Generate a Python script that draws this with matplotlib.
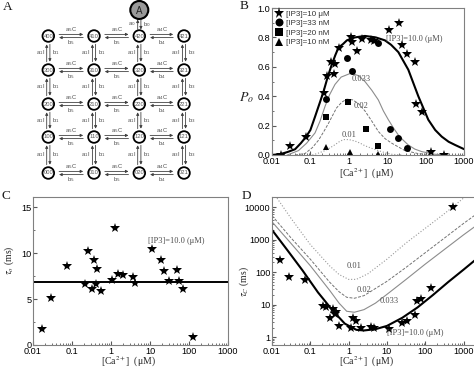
import matplotlib
matplotlib.use("Agg")
import numpy as np
import matplotlib.pyplot as plt
from matplotlib.patches import Circle
from matplotlib.ticker import FixedLocator, FuncFormatter, LogLocator, MultipleLocator, NullFormatter

W, H = 474, 368

# ---- Painel A: esquema de estados ----
state_rows = [["400", "410", "420", "421"],
              ["300", "310", "320", "321"],
              ["200", "210", "220", "221"],
              ["100", "110", "120", "121"],
              ["000", "010", "020", "021"]]
rates_horiz = [("a$_5$C", "b$_5$"), ("a$_5$C", "b$_5$"), ("a$_4$C", "b$_4$")]
rates_vert = [("a$_1$I", "b$_1$"), ("a$_1$I", "b$_1$"), ("a$_1$I", "b$_1$"), ("a$_3$I", "b$_3$")]

# ---- Painel B: probabilidade de abertura ----
b_star_ca = [0.017, 0.029, 0.077, 0.22, 0.27, 0.35, 0.44, 0.41, 0.54, 1.12, 1.24, 1.6,
             2.2, 3.8, 4.6, 11, 20, 25, 32, 52, 56, 79, 138, 300]
b_star_po = [0.0, 0.061, 0.125, 0.42, 0.54, 0.63, 0.62, 0.55, 0.73, 0.80, 0.77, 0.71,
             0.79, 0.78, 0.776, 0.85, 0.90, 0.75, 0.69, 0.63, 0.35, 0.29, 0.023, 0.0]
b_circ_ca = [0.25, 0.88, 1.19, 5.6, 11.8, 19.5, 32]
b_circ_po = [0.38, 0.66, 0.57, 0.76, 0.175, 0.118, 0.045]
b_sq_ca = [0.26, 0.98, 2.75, 5.9]
b_sq_po = [0.256, 0.36, 0.18, 0.063]
b_tri_ca = [0.25, 1.07, 5.9]
b_tri_po = [0.056, 0.018, 0.007]
legend_labels = ["[IP3]=10 \u03bcM", "[IP3]=33 nM", "[IP3]=20 nM", "[IP3]=10 nM"]

# curvas do modelo (log10 da [Ca] e Po)
b_fit10_logca = [-2.0, -1.77, -1.6, -1.4, -1.25, -1.11, -1.0, -0.88, -0.75, -0.66, -0.55, -0.45,
                 -0.35, -0.27, -0.15, -0.05, 0.16, 0.42, 0.7, 0.94, 1.1, 1.29, 1.42, 1.55,
                 1.68, 1.81, 1.94, 2.07, 2.25, 2.42, 2.6, 2.77, 3.0]
b_fit10_po = [0.0, 0.007, 0.02, 0.039, 0.08, 0.125, 0.17, 0.26, 0.36, 0.43, 0.53, 0.61,
              0.68, 0.73, 0.755, 0.78, 0.80, 0.81, 0.80, 0.78, 0.75, 0.70, 0.64, 0.58,
              0.49, 0.40, 0.32, 0.24, 0.17, 0.125, 0.09, 0.068, 0.04]
b_fit033_logca = [-1.6, -1.31, -1.1, -0.88, -0.75, -0.62, -0.5, -0.36, -0.2, 0.05, 0.25, 0.42,
                  0.6, 0.77, 0.9, 1.03, 1.16, 1.29, 1.42, 1.55, 1.72, 1.9, 2.24, 2.6]
b_fit033_po = [0.0, 0.03, 0.08, 0.15, 0.23, 0.33, 0.41, 0.48, 0.53, 0.556, 0.54, 0.50,
               0.44, 0.374, 0.30, 0.24, 0.185, 0.136, 0.10, 0.068, 0.04, 0.023, 0.005, 0.0]
b_fit02_logca = [-1.4, -1.14, -0.95, -0.79, -0.65, -0.53, -0.42, -0.32, -0.18, -0.05, 0.1, 0.25,
                 0.42, 0.6, 0.77, 0.95, 1.12, 1.46, 1.8, 2.2]
b_fit02_po = [0.0, 0.01, 0.05, 0.10, 0.16, 0.215, 0.27, 0.32, 0.36, 0.38, 0.375, 0.35,
              0.30, 0.23, 0.16, 0.11, 0.08, 0.03, 0.01, 0.0]
b_fit01_logca = [-0.95, -0.8, -0.62, -0.48, -0.36, -0.25, -0.14, 0.0, 0.16, 0.3, 0.42, 0.6,
                 0.77, 0.95, 1.12, 1.4]
b_fit01_po = [0.0, 0.012, 0.03, 0.05, 0.07, 0.09, 0.105, 0.105, 0.095, 0.08, 0.063, 0.045,
              0.03, 0.015, 0.005, 0.0]

# ---- Painel C: tempo médio aberto ----
c_ca = [0.017, 0.029, 0.076, 0.215, 0.25, 0.32, 0.37, 0.41, 0.43, 0.55, 1.07, 1.24,
        1.55, 2.0, 3.6, 4.1, 11, 19, 23, 31, 48, 55, 71, 123]
c_tau = [1.7, 5.1, 8.55, 6.6, 10.25, 6.1, 9.3, 6.6, 8.3, 5.9, 7.1, 12.7,
         7.7, 7.65, 7.45, 6.7, 10.4, 9.3, 8.0, 7.0, 8.2, 7.0, 6.05, 0.87]
c_fit_tau = 6.8

# ---- Painel D: tempo médio fechado ----
d_ca = [0.016, 0.028, 0.074, 0.21, 0.25, 0.33, 0.39, 0.43, 0.46, 0.55, 1.15, 1.3,
        1.58, 2.1, 3.8, 4.5, 11.6, 25, 33, 54, 60, 78, 140, 540]
d_tau = [230, 73, 58, 9.4, 8.7, 3.9, 7.4, 5.2, 5.8, 2.2, 1.9, 3.8,
         3.2, 1.9, 2.1, 1.9, 1.8, 2.7, 3.2, 4.9, 12.8, 15, 32, 10400]
d_fit10_logca = [-2.0, -1.6, -1.2, -0.8, -0.4, -0.1, 0.2, 0.4, 0.7, 1.0, 1.4, 1.8, 2.2, 2.6, 3.0, 3.35]
d_fit10_logtau = [3.30, 2.68, 2.05, 1.38, 0.80, 0.42, 0.23, 0.21, 0.25, 0.35, 0.60, 0.92, 1.30, 1.70, 2.08, 2.42]
d_grid_logca = [-2.0, -1.5, -1.0, -0.5, -0.25, -0.05, 0.15, 0.4, 0.7, 1.0, 1.5, 2.0, 2.5, 3.0, 3.35]
d_fit033_logtau = [3.55, 2.88, 2.2, 1.45, 1.05, 0.8, 0.77, 0.85, 1.05, 1.32, 1.78, 2.25, 2.7, 3.15, 3.45]
d_fit02_logtau = [3.74, 3.05, 2.4, 1.7, 1.4, 1.23, 1.2, 1.28, 1.5, 1.72, 2.15, 2.6, 3.05, 3.5, 3.8]
d_fit01_logca = [-2.0, -1.5, -1.0, -0.5, -0.25, 0.0, 0.2, 0.5, 1.0, 1.5, 2.0, 2.5, 2.73, 3.0, 3.35]
d_fit01_logtau = [4.5, 3.65, 2.85, 2.2, 1.93, 1.78, 1.78, 1.95, 2.4, 2.9, 3.35, 3.8, 4.02, 4.28, 4.6]

SERIF = ["Liberation Serif", "DejaVu Serif"]
SANS = ["Liberation Sans", "DejaVu Sans"]
FRAME = "0.5"


def px_axes(fig, x0, y0, x1, y1):
    """Cria eixos a partir de coordenadas em pixels (origem no topo)."""
    return fig.add_axes([x0 / W, 1 - y1 / H, (x1 - x0) / W, (y1 - y0) / H])


def estilo_eixos(ax):
    for s in ax.spines.values():
        s.set_color(FRAME)
        s.set_linewidth(0.8)
    ax.tick_params(which="both", direction="in", color="0.35", labelsize=6.6,
                   top=False, right=False, pad=1.2)
    ax.tick_params(which="major", length=3)
    ax.tick_params(which="minor", length=1.6)
    for lab in ax.get_xticklabels() + ax.get_yticklabels():
        lab.set_family(SANS)


def eixo_ca(ax):
    ax.set_xscale("log")
    ax.xaxis.set_major_locator(FixedLocator([0.01, 0.1, 1, 10, 100, 1000]))
    ax.xaxis.set_major_formatter(FuncFormatter(lambda v, p: f"{v:g}"))
    ax.xaxis.set_minor_locator(LogLocator(base=10, subs=np.arange(2, 10)))
    ax.xaxis.set_minor_formatter(NullFormatter())


def seta(ax, p0, p1):
    ax.annotate("", xy=p1, xytext=p0,
                arrowprops=dict(arrowstyle="-|>", lw=0.6, color="0.25",
                                mutation_scale=4, shrinkA=0, shrinkB=0))


def painel_a(fig):
    ax = px_axes(fig, 0, 0, 237, 184)
    ax.set_xlim(0, 237)
    ax.set_ylim(184, 0)
    ax.axis("off")
    cols = [48.3, 94.0, 139.3, 184.0]
    rows = [36, 70, 104, 137, 173]
    r = 5.8
    fs = 4.2
    for i, yr in enumerate(rows):
        for j, xc in enumerate(cols):
            ax.add_patch(Circle((xc, yr), r, facecolor="white", edgecolor="black", lw=1.3))
            ax.text(xc, yr, state_rows[i][j], ha="center", va="center", fontsize=fs,
                    color="0.35", family=SANS)
    # transições horizontais
    for yr in rows:
        for j in range(3):
            x0, x1 = cols[j] + r + 5, cols[j + 1] - r - 5
            seta(ax, (x0, yr - 1.6), (x1, yr - 1.6))
            seta(ax, (x1, yr + 1.6), (x0, yr + 1.6))
            xm = (x0 + x1) / 2
            ax.text(xm, yr - 6.5, rates_horiz[j][0], ha="center", va="center",
                    fontsize=fs, color="0.3", family=SANS, math_fontfamily="dejavusans")
            ax.text(xm, yr + 7, rates_horiz[j][1], ha="center", va="center",
                    fontsize=fs, color="0.3", family=SANS, math_fontfamily="dejavusans")
    # transições verticais
    for i in range(len(rows) - 1):
        y0, y1 = rows[i] + r + 2.5, rows[i + 1] - r - 2.5
        ym = (y0 + y1) / 2
        for j, xc in enumerate(cols):
            seta(ax, (xc - 1.6, y1), (xc - 1.6, y0))
            seta(ax, (xc + 1.6, y0), (xc + 1.6, y1))
            ax.text(xc - 3.5, ym, rates_vert[j][0], ha="right", va="center",
                    fontsize=fs, color="0.3", family=SANS, math_fontfamily="dejavusans")
            ax.text(xc + 3.8, ym, rates_vert[j][1], ha="left", va="center",
                    fontsize=fs, color="0.3", family=SANS, math_fontfamily="dejavusans")
    # estado aberto A
    ax.add_patch(Circle((139.3, 10), 9, facecolor="0.6", edgecolor="black", lw=1.5))
    ax.text(139.3, 10.5, "A", ha="center", va="center", fontsize=7, color="0.15", family=SANS)
    seta(ax, (137.7, 29.5), (137.7, 19.5))
    seta(ax, (140.9, 19.5), (140.9, 29.5))
    ax.text(135.5, 24.5, "a$_0$", ha="right", va="center", fontsize=fs, color="0.3",
            family=SANS, math_fontfamily="dejavusans")
    ax.text(143.0, 24.5, "b$_0$", ha="left", va="center", fontsize=fs, color="0.3",
            family=SANS, math_fontfamily="dejavusans")


def painel_b(fig):
    ax = px_axes(fig, 272, 8, 464, 155)
    eixo_ca(ax)
    ax.set_xlim(0.01, 1000)
    ax.set_ylim(0, 1.0)
    ax.yaxis.set_major_locator(MultipleLocator(0.2))
    ax.yaxis.set_minor_locator(MultipleLocator(0.1))
    ax.yaxis.set_major_formatter(FuncFormatter(lambda v, p: f"{v:.1f}"))

    ax.plot(10 ** np.array(b_fit01_logca), b_fit01_po, ls=":", color="0.6", lw=0.8)
    ax.plot(10 ** np.array(b_fit02_logca), b_fit02_po, ls="--", color="0.45", lw=0.7, dashes=(3, 1.5))
    ax.plot(10 ** np.array(b_fit033_logca), b_fit033_po, ls="-", color="0.55", lw=0.8)
    ax.plot(10 ** np.array(b_fit10_logca), b_fit10_po, ls="-", color="black", lw=1.5)

    h1, = ax.plot(b_star_ca, b_star_po, "*", color="black", ms=7, mew=0, ls="none")
    h2, = ax.plot(b_circ_ca, b_circ_po, "o", color="black", ms=5, mew=0, ls="none")
    h3, = ax.plot(b_sq_ca, b_sq_po, "s", color="black", ms=4.5, mew=0, ls="none")
    h4, = ax.plot(b_tri_ca, b_tri_po, "^", color="black", ms=5, mew=0, ls="none")
    leg = ax.legend([h1, h2, h3, h4], legend_labels, loc="upper left",
                    bbox_to_anchor=(-0.01, 1.02), frameon=False, handlelength=1.0,
                    handletextpad=0.4, labelspacing=0.25, borderaxespad=0.2,
                    markerscale=1.15, prop={"family": SANS, "size": 5.8})
    for t in leg.get_texts():
        t.set_color("0.2")

    tk = dict(family=SERIF, fontsize=6, color="0.3", va="center")
    ax.text(1.21, 0.517, "0.033", **tk)
    ax.text(1.35, 0.333, "0.02", **tk)
    ax.text(1.0, 0.136, "0.01", ha="center", **tk)
    ax.text(9.3, 0.79, "[IP3]=10.0 (\u03bcM)", **tk)
    estilo_eixos(ax)


def painel_c(fig):
    ax = px_axes(fig, 33, 197, 228, 345)
    eixo_ca(ax)
    ax.set_xlim(0.01, 1000)
    ax.set_ylim(0, 16.1)
    ax.yaxis.set_major_locator(FixedLocator([0, 5, 10, 15]))
    ax.yaxis.set_minor_locator(MultipleLocator(2.5))
    ax.axhline(c_fit_tau, color="black", lw=1.4)
    ax.plot(c_ca, c_tau, "*", color="black", ms=7, mew=0, ls="none")
    ax.text(8.9, 11.3, "[IP3]=10.0 (\u03bcM)", family=SERIF, fontsize=6, color="0.3", va="center")
    estilo_eixos(ax)


def painel_d(fig):
    # o eixo passa um pouco da borda direita, como no original recortado
    ax = px_axes(fig, 272, 197, 477, 345)
    eixo_ca(ax)
    ax.set_xlim(0.01, 10 ** 3.35)
    ax.set_yscale("log")
    ax.set_ylim(0.58, 20500)
    ax.yaxis.set_major_locator(FixedLocator([1, 10, 100, 1000, 10000]))
    ax.yaxis.set_major_formatter(FuncFormatter(lambda v, p: f"{v:g}"))
    ax.yaxis.set_minor_locator(LogLocator(base=10, subs=np.arange(2, 10)))
    ax.yaxis.set_minor_formatter(NullFormatter())

    ax.plot(10 ** np.array(d_fit01_logca), 10 ** np.array(d_fit01_logtau), ls=":", color="0.6", lw=0.8)
    ax.plot(10 ** np.array(d_grid_logca), 10 ** np.array(d_fit02_logtau), ls="--", color="0.45",
            lw=0.7, dashes=(3, 1.5))
    ax.plot(10 ** np.array(d_grid_logca), 10 ** np.array(d_fit033_logtau), ls="-", color="0.55", lw=0.8)
    ax.plot(10 ** np.array(d_fit10_logca), 10 ** np.array(d_fit10_logtau), ls="-", color="black", lw=1.5)
    ax.plot(d_ca, d_tau, "*", color="black", ms=7, mew=0, ls="none")

    tk = dict(family=SERIF, fontsize=6, color="0.3", va="center")
    ax.text(0.9, 160, "0.01", **tk)
    ax.text(1.6, 29, "0.02", **tk)
    ax.text(6.5, 13.5, "0.033", **tk)
    ax.text(10, 1.32, "[IP3]=10.0 (\u03bcM)", **tk)
    estilo_eixos(ax)


def main() -> None:
    plt.rcParams["mathtext.fontset"] = "stix"
    fig = plt.figure(figsize=(W / 100, H / 100), dpi=100)

    painel_a(fig)
    painel_b(fig)
    painel_c(fig)
    painel_d(fig)

    lab = dict(family=SERIF, fontsize=7, color="0.15", ha="center", va="center")
    xlab = "[Ca$^{2+}$]  (\u03bcM)"
    fig.text(366 / W, 1 - 174 / H, xlab, **lab)
    fig.text(128 / W, 1 - 362 / H, xlab, **lab)
    fig.text(366 / W, 1 - 362 / H, xlab, **lab)
    fig.text(247 / W, 1 - 98 / H, "$P_o$", family=SERIF, fontsize=10, color="0.15",
             ha="center", va="center")
    fig.text(9 / W, 1 - 260 / H, r"$\tau_o$ (ms)", rotation=90, **lab)
    fig.text(244 / W, 1 - 282 / H, r"$\tau_C$ (ms)", rotation=90, **lab)

    pl = dict(family=SERIF, fontsize=9.5, color="0.1", va="center", ha="left")
    fig.text(3 / W, 1 - 7 / H, "A", **pl)
    fig.text(240 / W, 1 - 6 / H, "B", **pl)
    fig.text(2 / W, 1 - 196 / H, "C", **pl)
    fig.text(242 / W, 1 - 196 / H, "D", **pl)

    fig.savefig("out.png", dpi=100)
    plt.close(fig)


if __name__ == "__main__":
    main()
